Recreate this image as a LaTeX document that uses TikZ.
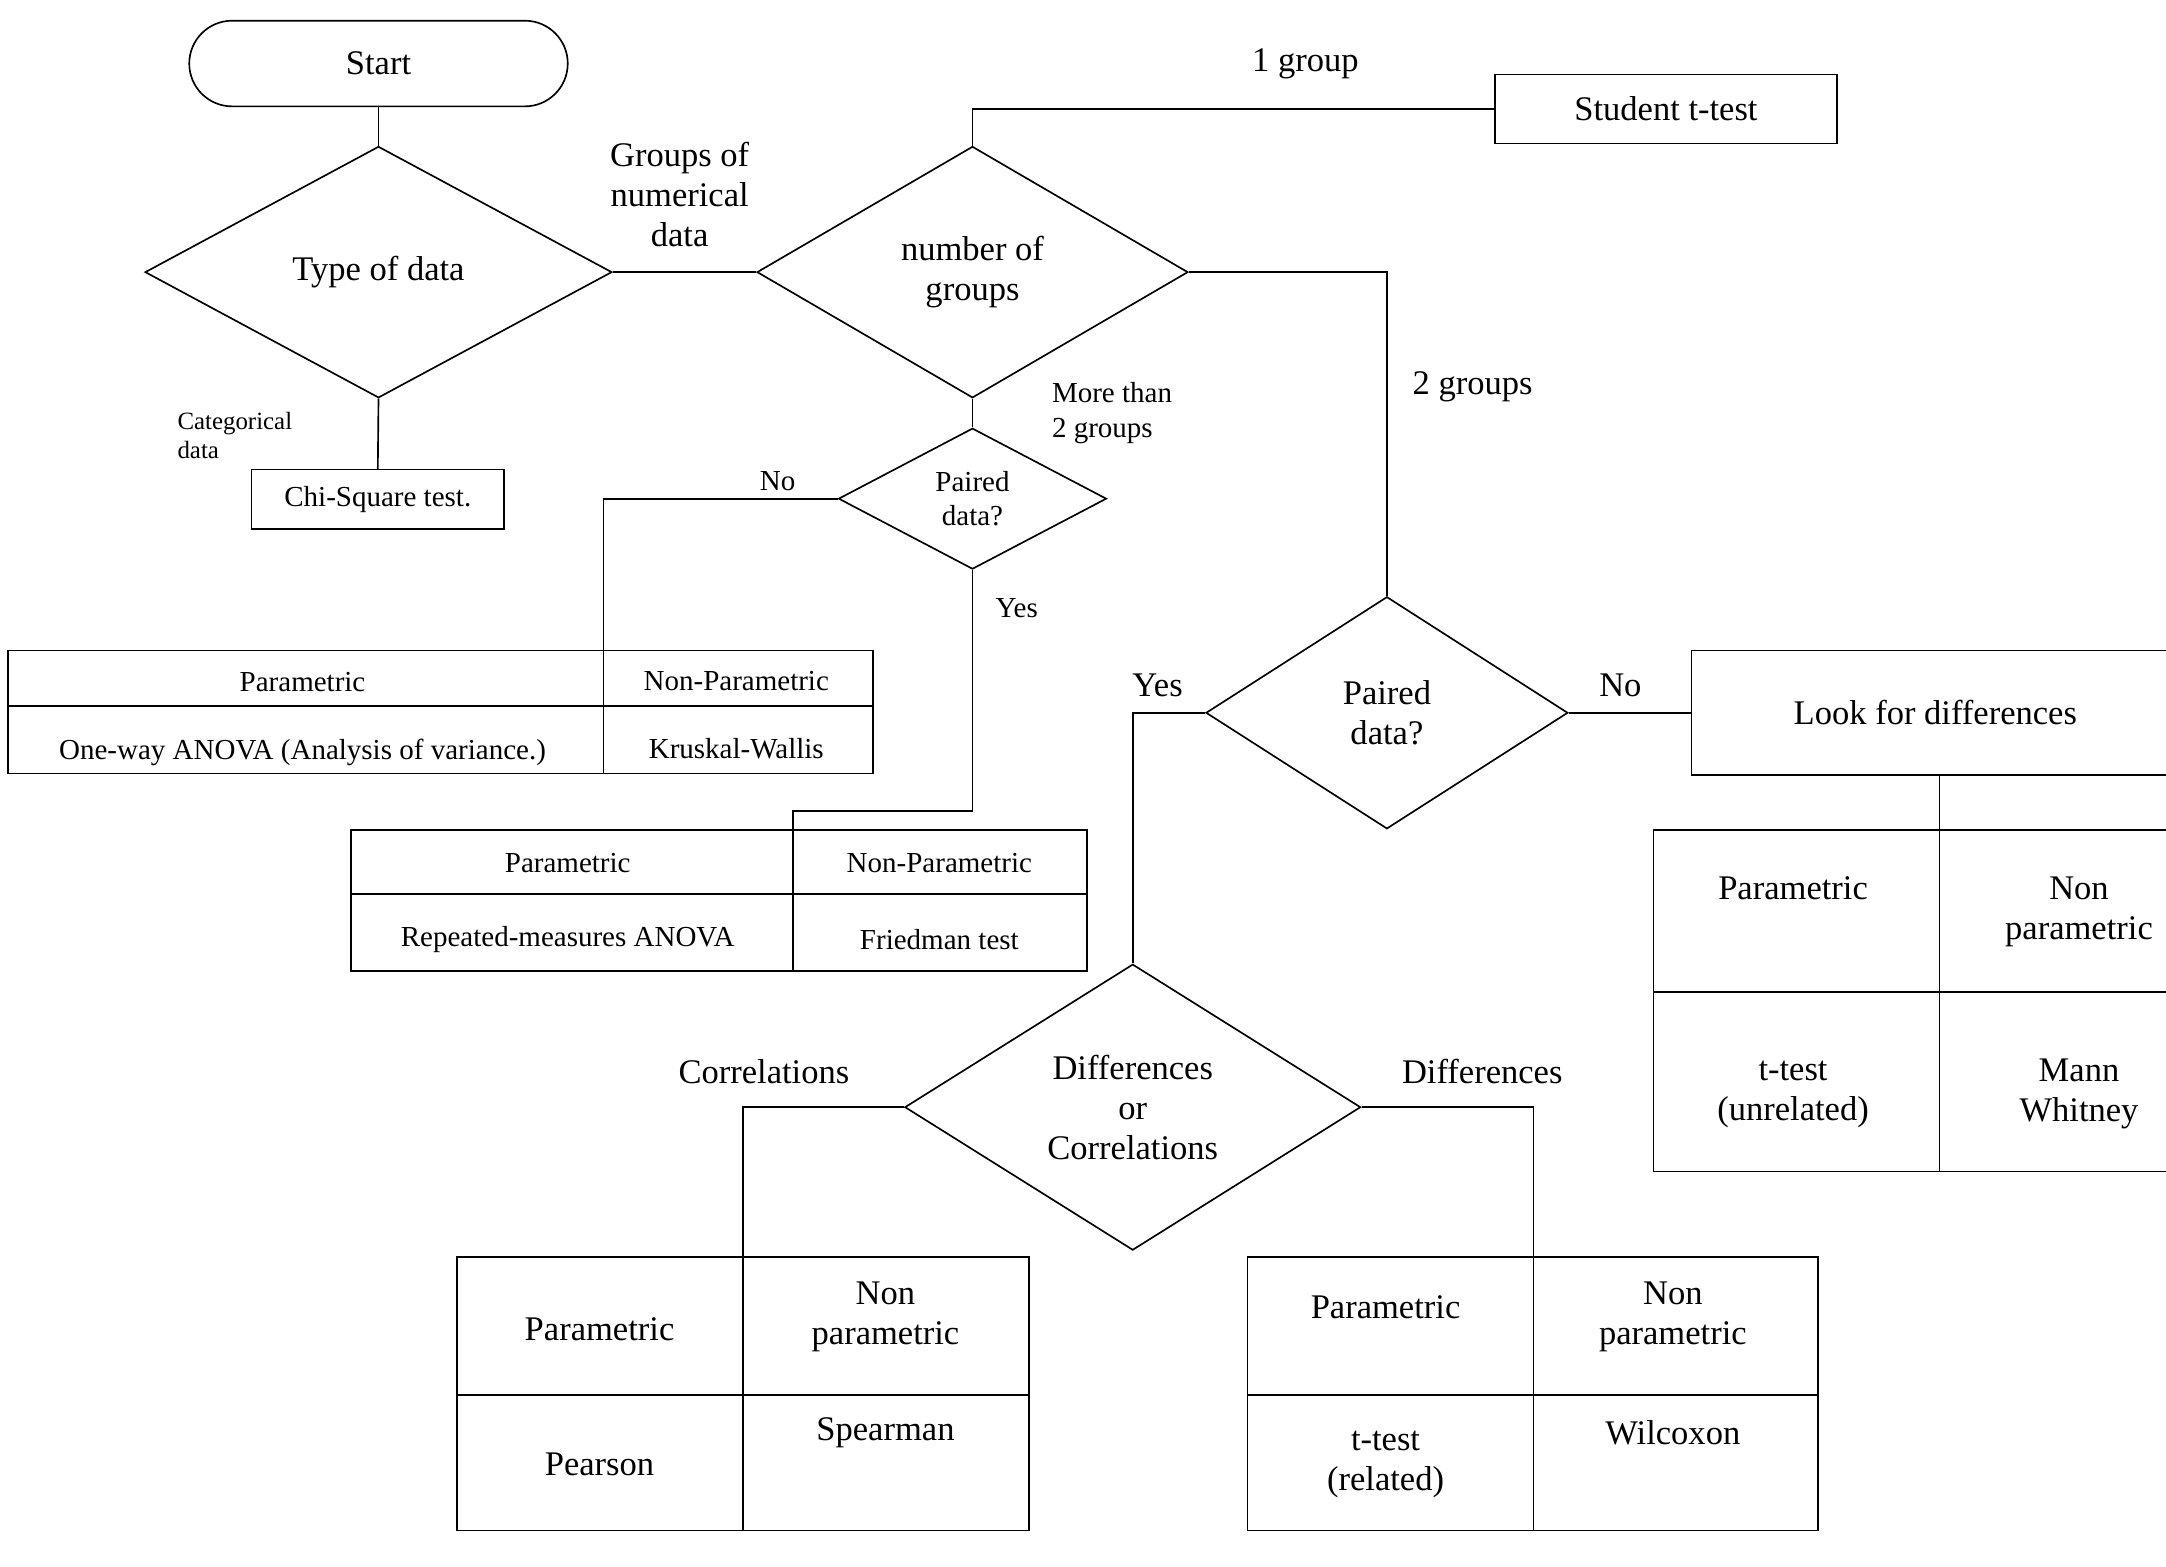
\documentclass[tikz,border=0pt]{standalone}
\usepackage{fontspec}
\setmainfont{Liberation Serif}
\usetikzlibrary{shapes.geometric}
\begin{document}
\begin{tikzpicture}[x=1pt,y=-1pt,line width=1.2pt,
  big/.style={font=\fontsize{25}{29}\selectfont,align=center},
  mid/.style={font=\fontsize{21}{25}\selectfont,align=center},
  sml/.style={font=\fontsize{18}{21}\selectfont,align=center},
  dia/.style={draw,diamond,inner sep=0pt,align=center},
  box/.style={draw,rectangle,inner sep=0pt}]
\clip (0,0) rectangle (1568,1134);
\useasboundingbox (0,0) rectangle (1568,1134);
\fill[white] (0,0) rectangle (1568,1134);
% nodes
\node[draw,rounded corners=31pt,minimum width=274pt,minimum height=62pt,big] (start) at (274,46) {Start};
\node[dia,minimum width=338pt,minimum height=182pt,big] (type) at (274,197) {Type of data};
\node[box,minimum width=183pt,minimum height=43pt,mid] (chi) at (273.5,361.5) {Chi-Square test.};
\node[dia,minimum width=312pt,minimum height=182pt,big] (num) at (704,197) {number of\\groups};
\node[box,minimum width=248pt,minimum height=50pt,big] (stu) at (1206,79) {Student t-test};
\node[dia,minimum width=194pt,minimum height=102pt,mid] (p1) at (704,361) {Paired\\data?};
\node[dia,minimum width=262pt,minimum height=168pt,big] (p2) at (1004,516) {Paired\\data?};
\node[box,minimum width=360pt,minimum height=90pt,big,anchor=west] (look) at (1224,516) {};
\node[big] at (1401,516) {Look for differences};
\node[dia,minimum width=330pt,minimum height=207pt,big] (dc) at (820,801.5) {Differences\\or\\Correlations};
% labels
\node[sml,align=left] at (170,315) {Categorical\\data};
\node[big] at (492,141) {Groups of\\numerical\\data};
\node[big] at (945,46) {1 group};
\node[big] at (1066,280) {2 groups};
\node[mid,align=left] at (805,299) {More than\\2 groups};
\node[mid] at (563,348) {No};
\node[mid] at (736,440) {Yes};
\node[big] at (838,496) {Yes};
\node[big] at (1173,496) {No};
\node[big] at (553,776) {Correlations};
\node[big] at (1073,776) {Differences};
% tables
\draw (6,471) rectangle (632,560) (6,511)--(632,511) (437,471)--(437,560);
\coordinate (t1) at (437,471);
\node[mid] at (219,494) {Parametric};
\node[mid] at (533,493) {Non-Parametric};
\node[mid] at (219,545) {One-way ANOVA (Analysis of variance.)};
\node[mid] at (533,542) {Kruskal-Wallis};
\draw (254,601) rectangle (787,703) (254,647)--(787,647) (574,601)--(574,703);
\coordinate (t2) at (574,601);
\node[mid] at (411,625) {Parametric};
\node[mid] at (680,625) {Non-Parametric};
\node[mid] at (411,680) {Repeated-measures ANOVA};
\node[mid] at (680,680) {Friedman test};
\draw (1197,601) rectangle (1590,848) (1197,718)--(1590,718) (1404,601)--(1404,848);
\coordinate (t3) at (1404,601);
\node[big] at (1298,643) {Parametric};
\node[big] at (1505,660) {Non\\parametric};
\node[big] at (1298,792) {t-test\\(unrelated)};
\node[big] at (1505,792) {Mann\\Whitney};
\draw (331,910) rectangle (745,1108) (331,1010)--(745,1010) (538,910)--(538,1108);
\coordinate (t4) at (538,910);
\node[big] at (434,962) {Parametric};
\node[big] at (641,953) {Non\\parametric};
\node[big] at (434,1060) {Pearson};
\node[big] at (641,1037) {Spearman};
\draw (903,910) rectangle (1316,1108) (903,1010)--(1316,1010) (1110,910)--(1110,1108);
\coordinate (t5) at (1110,910);
\node[big] at (1003,946) {Parametric};
\node[big] at (1211,953) {Non\\parametric};
\node[big] at (1003,1060) {t-test\\(related)};
\node[big] at (1211,1037) {Wilcoxon};
% connectors
\draw (start.south)--(type.north);
\draw (type.south)--(chi.north);
\draw (type.east)--(num.west);
\draw (num.north)|-(stu.west);
\draw (num.east)-|(p2.north);
\draw (num.south)--(p1.north);
\draw (p1.west)-|(t1);
\draw (p1.south)--(704,587)-|(t2);
\draw (p2.west)-|(dc.north);
\draw (p2.east)--(look.west);
\draw (1404,561)--(t3);
\draw (dc.west)-|(t4);
\draw (dc.east)-|(t5);
\end{tikzpicture}
\end{document}
